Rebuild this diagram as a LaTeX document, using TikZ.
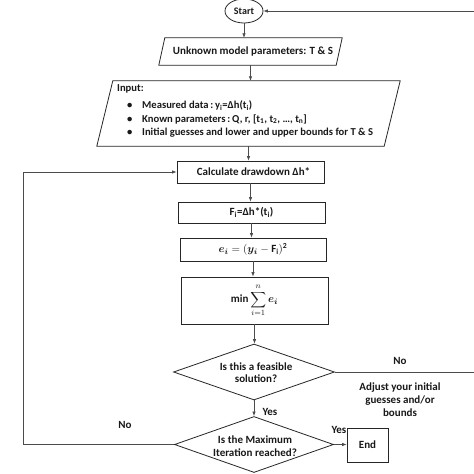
\documentclass[tikz,border=0pt]{standalone}
\usepackage{amsmath,bm}
\usepackage{fontspec}
\setmainfont{Carlito}
\usetikzlibrary{shapes.geometric,arrows.meta}
\begin{document}
\begin{tikzpicture}[x=1pt,y=-1pt,
  txt/.style={font=\bfseries\fontsize{11}{12.5}\selectfont, inner sep=0pt, text=black!90},
  box/.style={txt, draw=black!85, line width=0.8pt},
  plain/.style={txt, draw=none},
  shp/.style={draw=black!85, line width=0.8pt},
  conn/.style={draw=black!70, line width=0.7pt},
  arr/.style={conn, -{Latex[length=4.5pt,width=3.5pt]}}]
\useasboundingbox (0,0) rectangle (474,474);
\clip (0,0) rectangle (474,474);
\fill[white] (0,0) rectangle (474,474);

% nodes
\node[box, ellipse, minimum width=38pt, minimum height=24pt, font=\bfseries\fontsize{10}{12}\selectfont] (start) at (244,11) {Start};

\node[plain, minimum width=177pt, minimum height=27pt] (unk) at (250.5,51.5) {\hspace{5pt}Unknown model parameters: T \& S};
\draw[shp] ([xshift=3pt]unk.north west) -- ([xshift=3pt]unk.north east) -- ([xshift=-3pt]unk.south east) -- ([xshift=-3pt]unk.south west) -- cycle;

\node[plain, minimum width=287pt, minimum height=65pt] (input) at (248.5,113.5) {};
\draw[shp] ([xshift=8pt]input.north west) -- ([xshift=8pt]input.north east) -- ([xshift=-8pt]input.south east) -- ([xshift=-8pt]input.south west) -- cycle;
\node[txt, anchor=north west, align=left, font=\bfseries\fontsize{10.6}{13.5}\selectfont] (inputtxt) at (117,84)
  {Input:\\[4pt]
   \hspace{10pt}\makebox[15pt][l]{•}Measured data\,:\,y\textsubscript{i}=Δh(t\textsubscript{i})\\
   \hspace{10pt}\makebox[15pt][l]{•}Known parameters\,:\,Q, r, [t\textsubscript{1}, t\textsubscript{2}, …, t\textsubscript{n}]\\
   \hspace{10pt}\makebox[15pt][l]{•}Initial guesses and lower and upper bounds for T \& S};

\node[box, minimum width=147pt, minimum height=22pt] (calc) at (250.5,172) {\hspace{6pt}Calculate drawdown Δh*};
\node[box, minimum width=147pt, minimum height=21pt] (fbox) at (251.5,212.5) {F\textsubscript{i}=Δh*(t\textsubscript{i})};
\node[box, minimum width=146pt, minimum height=23pt] (ebox) at (253,249.5) {$\boldsymbol{e_{i}} = (\boldsymbol{y_{i}} - \text{F}_{\text{i}})^{\mathbf{2}}$};
\node[box, minimum width=147pt, minimum height=47pt] (minbox) at (254.5,300.5) {$\displaystyle \mathbf{min}\sum_{i=1}^{n} \boldsymbol{e_{i}}$};

\node[shp, diamond, minimum width=161pt, minimum height=56pt, inner sep=0pt] (d1) at (254,372) {};
\node[txt, align=center] (d1txt) at (256,372.5) {Is this a feasible\\solution?};
\node[shp, diamond, minimum width=159pt, minimum height=56pt, inner sep=0pt] (d2) at (254,444.5) {};
\node[txt, align=center] (d2txt) at (255,446) {Is the Maximum\\Iteration reached?};

\node[box, minimum width=41pt, minimum height=34pt] (endbox) at (367.5,445) {End};

\node[txt] (yes1) at (270,412) {Yes};
\node[txt] (yes2) at (339,430) {Yes};
\node[txt] (no1) at (400,361) {No};
\node[txt] (no2) at (125,425) {No};
\node[txt, align=center, font=\bfseries\fontsize{11}{13}\selectfont] (adj) at (400,400) {Adjust your initial\\guesses and/or\\bounds};

\coordinate (lft) at (23,444.5);
\coordinate (rgt) at (478,372);

% connectors
\draw[arr] (start.south) -- (start.south |- unk.north);
\draw[arr] (unk.south) -- (unk.south |- input.north);
\draw[arr] (input.south) -- (input.south |- calc.north);
\draw[arr] (calc.south) -- (calc.south |- fbox.north);
\draw[arr] (fbox.south) -- (fbox.south |- ebox.north);
\draw[arr] (ebox.south) -- (ebox.south |- minbox.north);
\draw[arr] (minbox.south) -- (minbox.south |- d1.north);
\draw[arr] (d1.south) -- (d2.north);
\draw[arr] (d2.east) -- (d2.east -| endbox.west);
\draw[arr] (d2.west) -- (lft) |- (calc.west);
\draw[arr] (d1.east) -- (rgt) |- (start.east);
\end{tikzpicture}
\end{document}
